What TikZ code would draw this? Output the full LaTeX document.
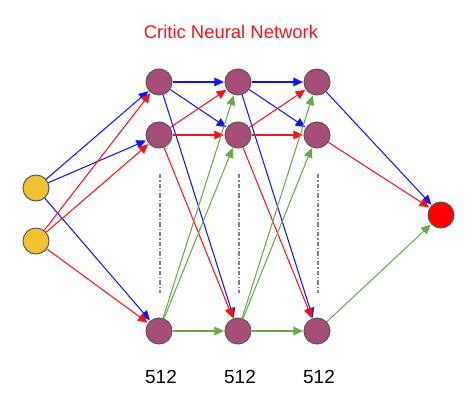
\documentclass[tikz,border=0pt]{standalone}
\usepackage{fontspec}
\setmainfont{Liberation Sans}
\usetikzlibrary{arrows.meta}
\definecolor{netblue}{RGB}{20,20,240}
\definecolor{netred}{RGB}{240,20,30}
\definecolor{netgreen}{RGB}{106,168,79}
\definecolor{netpurple}{RGB}{166,77,121}
\definecolor{netyellow}{RGB}{241,194,50}
\definecolor{netborder}{RGB}{95,85,85}
\tikzset{
  neuron/.style={circle, draw=netborder, line width=0.6pt, minimum size=0.52cm, inner sep=0pt},
  hidden/.style={neuron, fill=netpurple},
  link/.style={line width=0.6pt, -{Triangle[length=5.5pt,width=5pt]}, shorten >=0.3pt},
  elided/.style={gray, line width=0.8pt, dash pattern=on 2.5pt off 1.2pt on 0.6pt off 1.2pt}
}

\begin{document}
\begin{tikzpicture}[x=0.02cm, y=-0.02cm]
    \useasboundingbox (0,0) rectangle (474,412);
    % title
    \node[text=netred, font=\fontsize{10.5}{12}\selectfont] (title) at (231,32) {Critic Neural Network};
    % input neurons
    \node[neuron, fill=netyellow] (in1) at (36,188) {};
    \node[neuron, fill=netyellow] (in2) at (36,241) {};
    % hidden layers
    \node[hidden] (h1a) at (159,82) {};
    \node[hidden] (h1b) at (159,135) {};
    \node[hidden] (h1c) at (159,331) {};
    \node[hidden] (h2a) at (238,82) {};
    \node[hidden] (h2b) at (238,135) {};
    \node[hidden] (h2c) at (238,331) {};
    \node[hidden] (h3a) at (317,82) {};
    \node[hidden] (h3b) at (317,135) {};
    \node[hidden] (h3c) at (317,331) {};
    % output neuron
    \node[neuron, fill=red] (out) at (441,215) {};
    % elided neurons
    \draw[elided] (160,174) -- (160,293);
    \draw[elided] (239,174) -- (239,293);
    \draw[elided] (318,174) -- (318,293);
    % layer sizes
    \node[font=\fontsize{10.8}{12}\selectfont] (n1) at (161,377) {512};
    \node[font=\fontsize{10.8}{12}\selectfont] (n2) at (240,377) {512};
    \node[font=\fontsize{10.8}{12}\selectfont] (n3) at (319,377) {512};
    % input -> first hidden layer
    \draw[link, netblue] (in1) -- (h1a);
    \draw[link, netblue] (in1) -- (h1b);
    \draw[link, netblue] (in1) -- (h1c);
    \draw[link, netred] (in2) -- (h1a);
    \draw[link, netred] (in2) -- (h1b);
    \draw[link, netred] (in2) -- (h1c);
    % first -> second hidden layer
    \draw[link, netblue] (h1a) -- (h2a);
    \draw[link, netblue] (h1a) -- (h2b);
    \draw[link, netblue] (h1a) -- (h2c);
    \draw[link, netred] (h1b) -- (h2a);
    \draw[link, netred] (h1b) -- (h2b);
    \draw[link, netred] (h1b) -- (h2c);
    \draw[link, netgreen] (h1c) -- (h2a);
    \draw[link, netgreen] (h1c) -- (h2b);
    \draw[link, netgreen] (h1c) -- (h2c);
    % second -> third hidden layer
    \draw[link, netblue] (h2a) -- (h3a);
    \draw[link, netblue] (h2a) -- (h3b);
    \draw[link, netblue] (h2a) -- (h3c);
    \draw[link, netred] (h2b) -- (h3a);
    \draw[link, netred] (h2b) -- (h3b);
    \draw[link, netred] (h2b) -- (h3c);
    \draw[link, netgreen] (h2c) -- (h3a);
    \draw[link, netgreen] (h2c) -- (h3b);
    \draw[link, netgreen] (h2c) -- (h3c);
    % third hidden layer -> output
    \draw[link, netblue] (h3a) -- (out);
    \draw[link, netred] (h3b) -- (out);
    \draw[link, netgreen] (h3c) -- (out);
\end{tikzpicture}
\end{document}
